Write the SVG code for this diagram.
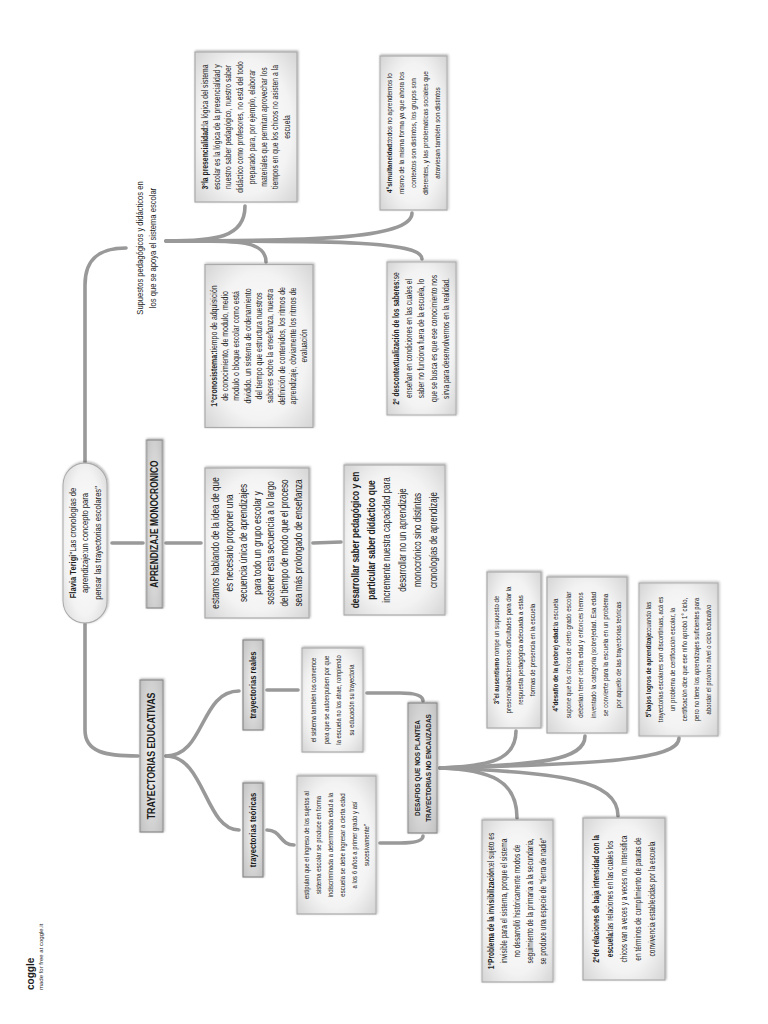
<svg xmlns="http://www.w3.org/2000/svg" width="768" height="1024" viewBox="0 0 768 1024">
<defs>
<radialGradient id="g" cx="50%" cy="50%" r="75%"><stop offset="0" stop-color="#ffffff"/><stop offset="0.6" stop-color="#f3f3f3"/><stop offset="1" stop-color="#cfcfcf"/></radialGradient>
<radialGradient id="g2" cx="50%" cy="50%" r="75%"><stop offset="0" stop-color="#f2f2f2"/><stop offset="1" stop-color="#bdbdbd"/></radialGradient>
<filter id="sh" x="-15%" y="-15%" width="130%" height="130%"><feDropShadow dx="0.8" dy="0.8" stdDeviation="1.2" flood-color="#000" flood-opacity="0.35"/></filter>
</defs>
<style>
.box{fill:url(#g);stroke:#aaaaaa;stroke-width:1.2;filter:url(#sh)}
.dk{fill:url(#g2);stroke:#8a8a8a;stroke-width:1.2;filter:url(#sh)}
.t{font-family:"Liberation Sans Narrow","Liberation Sans",Arial,sans-serif;fill:#1c1c1c;text-anchor:middle}
.b{font-weight:bold}
.c{fill:none;stroke:#999999;stroke-width:3.6;stroke-linecap:round}
</style>
<rect width="768" height="1024" fill="#ffffff"/>
<g id="connectors">
<path class="c" d="M85,462 L85,285 C85,258 100,248 126,248"/>
<path class="c" d="M166,241 C215,241 245,238 245,206"/>
<path class="c" d="M166,241 C230,241 266,238 266,262"/>
<path class="c" d="M166,241 C300,241 412,240 412,213"/>
<path class="c" d="M166,241 C320,241 422,240 422,259"/>
<path class="c" d="M85,624 L85,730 C85,752 105,756 138,756"/>
<path class="c" d="M112,543 L143,543"/>
<path class="c" d="M166,543 L201,543"/>
<path class="c" d="M313,543 L341,542"/>
<path class="c" d="M166,756 C205,756 200,691 239,691"/>
<path class="c" d="M166,756 C205,756 205,830 239,830"/>
<path class="c" d="M267,690 L298,690"/>
<path class="c" d="M267,830 C281,830 280,845 294,845"/>
<path class="c" d="M367,693 L400,693 Q423,693 423,701"/>
<path class="c" d="M380,843 L400,843 Q423,843 423,836"/>
<path class="c" d="M440,768 C490,766 516,760 516,731"/>
<path class="c" d="M440,768 C540,765 585,760 585,736"/>
<path class="c" d="M440,768 C600,764 679,760 679,738"/>
<path class="c" d="M440,768 C490,770 517,780 517,818"/>
<path class="c" d="M440,768 C560,772 618,780 618,816"/>
</g>
<g id="central" transform="translate(85,543) rotate(-90)">
<rect class="box" x="-80" y="-22" width="160" height="44" rx="22"/>
<text class="t" font-size="9.5" y="-9.2" transform="scale(0.8 1)"><tspan x="0"><tspan class="b">Flavia Terigi</tspan>"Las cronologías de</tspan><tspan x="0" dy="12.5">aprendizaje:un concepto para</tspan><tspan x="0" dy="12.5">pensar las trayectorias escolares"</tspan></text>
</g>
<g id="supuestos" transform="translate(146,248) rotate(-90)">
<text class="t" font-size="9.5" y="-3.3" transform="scale(0.8 1)"><tspan x="0">Supuestos pedagógicos y didácticos en</tspan><tspan x="0" dy="13">los que se apoya el sistema escolar</tspan></text>
</g>
<g id="s3" transform="translate(246,127) rotate(-90)">
<rect class="box" x="-75" y="-51" width="150" height="102"/>
<text class="t" font-size="8.5" y="-38.3" transform="scale(0.8 1)"><tspan x="0"><tspan class="b">3°la presencialidad:</tspan>la lógica del sistema</tspan><tspan x="0" dy="11.8">escolar es la lógica de la presencialidad y</tspan><tspan x="0" dy="11.8">nuestro saber pedagógico, nuestro saber</tspan><tspan x="0" dy="11.8">didáctico como profesores, no está del todo</tspan><tspan x="0" dy="11.8">preparado para, por ejemplo, elaborar</tspan><tspan x="0" dy="11.8">materiales que permitan aprovechar los</tspan><tspan x="0" dy="11.8">tiempos en que los chicos no asisten a la</tspan><tspan x="0" dy="11.8">escuela</tspan></text>
</g>
<g id="s1" transform="translate(259,346) rotate(-90)">
<rect class="box" x="-81.5" y="-54" width="163" height="108"/>
<text class="t" font-size="8.7" y="-42.2" transform="scale(0.8 1)"><tspan x="0"><tspan class="b">1°cronosistema:</tspan>tiempo de adquisición</tspan><tspan x="0" dy="11.3">de conocimiento, de modulo, medio</tspan><tspan x="0" dy="11.3">modulo o bloque escolar como está</tspan><tspan x="0" dy="11.3">dividido. un sistema de ordenamiento</tspan><tspan x="0" dy="11.3">del tiempo que estructura nuestros</tspan><tspan x="0" dy="11.3">saberes sobre la enseñanza, nuestra</tspan><tspan x="0" dy="11.3">definición de contenidos, los ritmos de</tspan><tspan x="0" dy="11.3">aprendizaje, obviamente los ritmos de</tspan><tspan x="0" dy="11.3">evaluación</tspan></text>
</g>
<g id="s4" transform="translate(413.5,133) rotate(-90)">
<rect class="box" x="-77" y="-33.5" width="154" height="67"/>
<text class="t" font-size="8" y="-21.3" transform="scale(0.8 1)"><tspan x="0"><tspan class="b">4°simultaneidad:</tspan>todos no aprendemos lo</tspan><tspan x="0" dy="12">mismo de la misma forma ya que ahora los</tspan><tspan x="0" dy="12">contextos son distintos, los grupos son</tspan><tspan x="0" dy="12">diferentes, y las problemáticas sociales que</tspan><tspan x="0" dy="12">atraviesan también son distintos</tspan></text>
</g>
<g id="s2" transform="translate(421.5,338.5) rotate(-90)">
<rect class="box" x="-76.5" y="-34.5" width="153" height="69"/>
<text class="t" font-size="8.3" y="-22.1" transform="scale(0.8 1)"><tspan x="0"><tspan class="b">2° descontextualización de los saberes:</tspan>se</tspan><tspan x="0" dy="12.5">enseñan en condiciones en las cuales el</tspan><tspan x="0" dy="12.5">saber no funciona fuera de la escuela, lo</tspan><tspan x="0" dy="12.5">que se busca es que ese conocimiento nos</tspan><tspan x="0" dy="12.5">sirva para desenvolvernos en la realidad.</tspan></text>
</g>
<g id="aprendizaje" transform="translate(154.5,524) rotate(-90)">
<rect class="dk" x="-84" y="-8" width="168" height="16"/>
<text class="t b" font-size="10.5" x="0" y="3.7" transform="scale(0.8 1)">APRENDIZAJE MONOCRONICO</text>
</g>
<g id="estamos" transform="translate(257,543) rotate(-90)">
<rect class="box" x="-75" y="-52" width="150" height="104"/>
<text class="t" font-size="10.2" y="-38.5" transform="scale(0.8 1)"><tspan x="0">estamos hablando de la idea de que</tspan><tspan x="0" dy="14">es necesario proponer una</tspan><tspan x="0" dy="14">secuencia única de aprendizajes</tspan><tspan x="0" dy="14">para todo un grupo escolar y</tspan><tspan x="0" dy="14">sostener esta secuencia a lo largo</tspan><tspan x="0" dy="14">del tiempo de modo que el proceso</tspan><tspan x="0" dy="14">sea más prolongado de enseñanza</tspan></text>
</g>
<g id="desarrollar" transform="translate(394.5,540) rotate(-90)">
<rect class="box" x="-75" y="-50.5" width="150" height="101"/>
<text class="t" font-size="10" y="-35.25" transform="scale(0.8 1)"><tspan x="0" class="b" font-size="10.5">desarrollar saber pedagógico y en</tspan><tspan x="0" dy="15.5" class="b" font-size="10.5">particular saber didáctico que</tspan><tspan x="0" dy="15.5">incremente nuestra capacidad para</tspan><tspan x="0" dy="15.5">desarrollar no un aprendizaje</tspan><tspan x="0" dy="15.5">monocrónico sino distintas</tspan><tspan x="0" dy="15.5">cronologías de aprendizaje</tspan></text>
</g>
<g id="trayectorias" transform="translate(151.5,756) rotate(-90)">
<rect class="dk" x="-76" y="-11.5" width="152" height="23"/>
<text class="t b" font-size="11" x="0" y="3.9" transform="scale(0.8 1)">TRAYECTORIAS EDUCATIVAS</text>
</g>
<g id="reales" transform="translate(253,685) rotate(-90)">
<rect class="dk" x="-45" y="-10" width="90" height="20"/>
<text class="t b" font-size="9.5" x="0" y="3.3" transform="scale(0.8 1)">trayectorias reales</text>
</g>
<g id="teoricas" transform="translate(253,830) rotate(-90)">
<rect class="dk" x="-47" y="-10" width="94" height="20"/>
<text class="t b" font-size="9.5" x="0" y="3.3" transform="scale(0.8 1)">trayectorias teóricas</text>
</g>
<g id="sistema" transform="translate(332.5,700) rotate(-90)">
<rect class="box" x="-52" y="-30.5" width="104" height="61"/>
<text class="t" font-size="7.3" y="-17" transform="scale(0.8 1)"><tspan x="0">el sistema también los convence</tspan><tspan x="0" dy="13">para que se autoexpulsen por que</tspan><tspan x="0" dy="13">la escuela no los atrae, rompiendo</tspan><tspan x="0" dy="13">su educación su trayectoria</tspan></text>
</g>
<g id="estipulan" transform="translate(336.5,845) rotate(-90)">
<rect class="box" x="-69" y="-39.5" width="138" height="79"/>
<text class="t" font-size="7.5" y="-27.4" transform="scale(0.8 1)"><tspan x="0">estipulan que el ingreso de los sujetos al</tspan><tspan x="0" dy="12">sistema escolar se produce en forma</tspan><tspan x="0" dy="12">indiscriminada a determinada edad a la</tspan><tspan x="0" dy="12">escuela se debe ingresar a cierta edad</tspan><tspan x="0" dy="12">a los 6 años a primer grado y así</tspan><tspan x="0" dy="12">sucesivamente"</tspan></text>
</g>
<g id="desafios" transform="translate(422.5,768) rotate(-90)">
<rect class="dk" x="-65" y="-14.5" width="130" height="29"/>
<text class="t b" font-size="8" y="-2.9" transform="scale(0.8 1)"><tspan x="0">DESAFIOS QUE NOS PLANTEA</tspan><tspan x="0" dy="11">TRAYECTORIAS NO ENCAUZADAS</tspan></text>
</g>
<g id="d3" transform="translate(514,650) rotate(-90)">
<rect class="box" x="-78" y="-27" width="156" height="54"/>
<text class="t" font-size="7.6" y="-15.4" transform="scale(0.8 1)"><tspan x="0"><tspan class="b">3°el ausentismo</tspan> rompe un supuesto de</tspan><tspan x="0" dy="12">presencialidad:tenemos dificultades para dar la</tspan><tspan x="0" dy="12">respuesta pedagógica adecuada a estas</tspan><tspan x="0" dy="12">formas de presencia en la escuela</tspan></text>
</g>
<g id="d4" transform="translate(587,655) rotate(-90)">
<rect class="box" x="-78" y="-40" width="156" height="80"/>
<text class="t" font-size="7.8" y="-28.55" transform="scale(0.8 1)"><tspan x="0"><tspan class="b">4°desafío de la (sobre) edad:</tspan>la escuela</tspan><tspan x="0" dy="12.5">supone que los chicos de cierto grado escolar</tspan><tspan x="0" dy="12.5">deberían tener cierta edad y entonces hemos</tspan><tspan x="0" dy="12.5">inventado la categoría (sobre)edad. Esa edad</tspan><tspan x="0" dy="12.5">se convierte para la escuela en un problema</tspan><tspan x="0" dy="12.5">por aquello de las trayectorias teóricas</tspan></text>
</g>
<g id="d5" transform="translate(678.5,659.5) rotate(-90)">
<rect class="box" x="-76.5" y="-39.5" width="153" height="79"/>
<text class="t" font-size="7.5" y="-27.4" transform="scale(0.8 1)"><tspan x="0"><tspan class="b">5°bajos logros de aprendizaje:</tspan>cuando las</tspan><tspan x="0" dy="12">trayectorias escolares son discontinuas, acá es</tspan><tspan x="0" dy="12">un problema de certificación escolar, la</tspan><tspan x="0" dy="12">certificación dice que ese niño aprobó 1° ciclo,</tspan><tspan x="0" dy="12">pero no tiene los aprendizajes suficientes para</tspan><tspan x="0" dy="12">abordar el próximo nivel o ciclo educativo</tspan></text>
</g>
<g id="d1" transform="translate(517.5,901) rotate(-90)">
<rect class="box" x="-81" y="-35.5" width="162" height="71"/>
<text class="t" font-size="8.2" y="-23.2" transform="scale(0.8 1)"><tspan x="0"><tspan class="b">1°Problema de la invisibilización:</tspan>el sujeto es</tspan><tspan x="0" dy="13">invisible para el sistema, porque el sistema</tspan><tspan x="0" dy="13">no desarrolló históricamente modos de</tspan><tspan x="0" dy="13">seguimiento de la primaria a la secundaria,</tspan><tspan x="0" dy="13">se produce una especie de "tierra de nadie"</tspan></text>
</g>
<g id="d2" transform="translate(624,899) rotate(-90)">
<rect class="box" x="-81" y="-41" width="162" height="82"/>
<text class="t" font-size="8.2" y="-25.2" transform="scale(0.8 1)"><tspan x="0"><tspan class="b">2°de relaciones de baja intensidad con la</tspan></tspan><tspan x="0" dy="14"><tspan class="b">escuela:</tspan>las relaciones en las cuales los</tspan><tspan x="0" dy="14">chicos van a veces y a veces no. Intensifica</tspan><tspan x="0" dy="14">en términos de cumplimiento de pautas de</tspan><tspan x="0" dy="14">convivencia establecidas por la escuela</tspan></text>
</g>
<g id="footer" transform="translate(34,990) rotate(-90)">
<text class="t b" font-size="10" x="0" y="0" style="text-anchor:start">coggle</text>
<text class="t" font-size="6" x="0" y="9" style="text-anchor:start">made for free at coggle.it</text>
</g>
</svg>
